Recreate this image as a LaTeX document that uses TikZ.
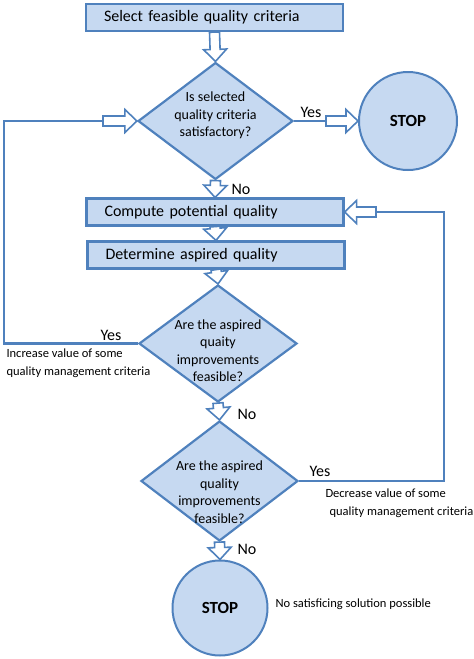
\documentclass[tikz,border=0pt]{standalone}
\usepackage{fontspec}
\setmainfont{Carlito}
\usetikzlibrary{shapes.geometric,calc}
\definecolor{qblue}{RGB}{79,129,189}
\definecolor{qfill}{RGB}{198,217,241}

\begin{document}
\begin{tikzpicture}[x=1pt,y=-1pt,
box/.style={draw=qblue,fill=qfill,line width=2.2pt,text width=221pt,inner xsep=18pt,inner ysep=2pt,minimum height=27pt,align=left,font=\fontsize{16}{18}\selectfont},
dia/.style={diamond,draw=qblue,fill=qfill,line width=2.2pt,aspect=1.33,inner sep=-14pt,align=center,font=\fontsize{14}{17.5}\selectfont},
stopc/.style={circle,draw=qblue,fill=qfill,line width=2pt,inner sep=0pt,font=\fontsize{17}{19}\selectfont\bfseries},
link/.style={draw=qblue,line width=2.2pt},
hollow/.style={draw=qblue,fill=white,line width=1.6pt,to path={let \p1=(\tikztostart),\p2=(\tikztotarget),\p3=($(\p2)!12pt!(\p1)$) in
  ($(\p1)!5pt!90:(\p2)$) -- ($(\p3)!5pt!90:(\p2)$) -- ($(\p3)!11.5pt!90:(\p2)$) -- (\p2)
  -- ($(\p3)!11.5pt!-90:(\p2)$) -- ($(\p3)!5pt!-90:(\p2)$) -- ($(\p1)!5pt!-90:(\p2)$) -- cycle}},
lab/.style={font=\fontsize{16}{18}\selectfont},
note/.style={anchor=west,align=left,font=\fontsize{12.5}{18}\selectfont}]
\useasboundingbox (0,0) rectangle (474,659);
\node[box] (box1) at (214.5,17.5) {Select feasible quality criteria};
\node[dia,minimum width=155pt,minimum height=117pt] (d1) at (215.5,121) {Is selected\\quality criteria\\satisfactory?\rule[-13pt]{0pt}{13pt}};
\node[stopc,minimum size=98pt] (stop1) at (408,121) {STOP};
\node[box] (box2) at (215,212) {Compute potential quality};
\node[box] (box3) at (216,255) {Determine aspired quality};
\node[dia,minimum width=158pt,minimum height=117pt] (d2) at (218,343.5) {\rule{0pt}{24pt}Are the aspired\\quaity\\improvements\\feasible?};
\node[dia,minimum width=157pt,minimum height=120pt] (d3) at (219.5,481) {\rule{0pt}{32pt}Are the aspired\\quality\\improvements\\feasible?};
\node[stopc,minimum size=95pt] (stop2) at (220,608) {STOP};
\coordinate (y1) at (326,121);
\coordinate (lc) at (4,121);
\coordinate (l1) at (103,121);
\coordinate (rc) at (444,212);
\coordinate (r1) at (376,212);
\draw[hollow] (box1.south) to (d1.north);
\draw[link] (d1.east) -- (y1);
\draw[hollow] (y1) to (stop1.west);
\draw[hollow] (d1.south) to (box2.north);
\draw[hollow] (box2.south) to (box3.north);
\draw[hollow] (box3.south) to (d2.north);
\draw[hollow] (d2.south) to (d3.north);
\draw[hollow] (d3.south) to (stop2.north);
\draw[link] (d2.west) -| (lc) -- (l1);
\draw[hollow] (l1) to (d1.west);
\draw[link] (d3.east) -| (rc) -- (r1);
\draw[hollow] (r1) to (box2.east);
\node[lab] (yes1) at (311,112) {Yes};
\node[lab] (no1) at (241,189) {No};
\node[lab] (yes2) at (111,335) {Yes};
\node[lab] (no2) at (247,414) {No};
\node[lab] (yes3) at (320,471) {Yes};
\node[lab] (no3) at (247,549) {No};
\node[note] (inc) at (3,363) {Increase value of some\\quality management criteria};
\node[note] (dec) at (322,503) {Decrease value of some\\\hspace*{4pt}quality management criteria};
\node[note] (nosol) at (272,604) {No satisficing solution possible};
\end{tikzpicture}
\end{document}
